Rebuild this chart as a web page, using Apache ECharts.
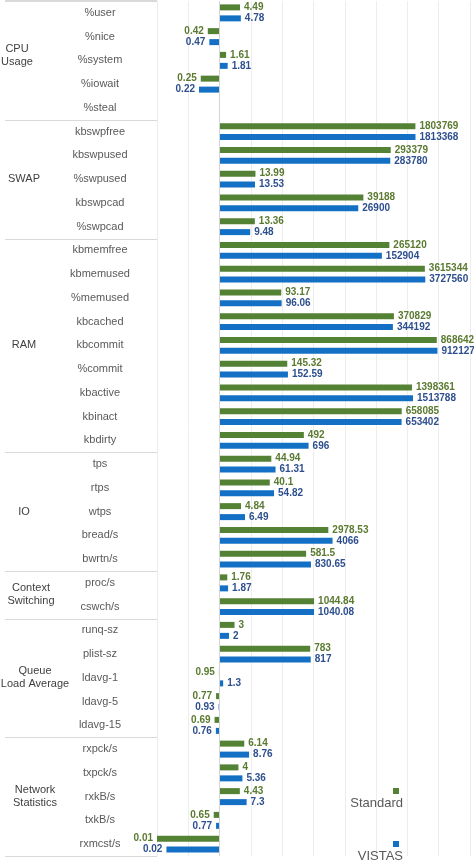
<!DOCTYPE html>
<html>
<head>
<meta charset="utf-8">
<script src="https://cdn.jsdelivr.net/npm/echarts@6/dist/echarts.min.js"></script>
<style>
  html, body { margin: 0; padding: 0; background: #fff; }
  #main { width: 474px; height: 861px; }
</style>
</head>
<body>
<div id="main"></div>
<script>
var metrics = [
  "%user", "%nice", "%system", "%iowait", "%steal",
  "kbswpfree", "kbswpused", "%swpused", "kbswpcad", "%swpcad",
  "kbmemfree", "kbmemused", "%memused", "kbcached", "kbcommit", "%commit", "kbactive", "kbinact", "kbdirty",
  "tps", "rtps", "wtps", "bread/s", "bwrtn/s",
  "proc/s", "cswch/s",
  "runq-sz", "plist-sz", "ldavg-1", "ldavg-5", "ldavg-15",
  "rxpck/s", "txpck/s", "rxkB/s", "txkB/s", "rxmcst/s"
];
var groups = ["CPU\nUsage", "SWAP", "RAM", "IO", "Context\nSwitching", "Queue\nLoad Average", "Network\nStatistics"];
var groupSizes = [5, 5, 9, 5, 2, 5, 5];

var standard = [
  4.49, 0.42, 1.61, 0.25, null,
  1803769, 293379, 13.99, 39188, 13.36,
  265120, 3615344, 93.17, 370829, 8686420, 145.32, 1398361, 658085, 492,
  44.94, 40.1, 4.84, 2978.53, 581.5,
  1.76, 1044.84,
  3, 783, 0.95, 0.77, 0.69,
  6.14, 4, 4.43, 0.65, 0.01
];
var vistas = [
  4.78, 0.47, 1.81, 0.22, null,
  1813368, 283780, 13.53, 26900, 9.48,
  152904, 3727560, 96.06, 344192, 9121278, 152.59, 1513788, 653402, 696,
  61.31, 54.82, 6.49, 4066, 830.65,
  1.87, 1040.08,
  2, 817, 1.3, 0.93, 0.76,
  8.76, 5.36, 7.3, 0.77, 0.02
];

var GREEN = "#548235", BLUE = "#1470c4";
var GREEN_TXT = "#5a7a30", BLUE_TXT = "#2e4f8e";
var FONT = "Liberation Sans, Arial, sans-serif";

// bar length is log10 of the value, the label shows the raw value
function toItems(arr) {
  return arr.map(function (v) {
    if (v == null) return null;
    var l = Math.log10(v);
    return { value: l, label: { position: l < 0 ? "left" : "right" } };
  });
}

function barSeries(name, arr, color, txt) {
  return {
    name: name,
    type: "bar",
    barWidth: 6,
    barGap: "83%",
    data: toItems(arr),
    itemStyle: { color: color },
    label: {
      show: true,
      distance: 4,
      color: txt,
      fontFamily: FONT,
      fontSize: 10,
      fontWeight: "bold",
      formatter: function (p) { return String(arr[p.dataIndex]); }
    }
  };
}

var chart = echarts.init(document.getElementById("main"));
var option = {
  animation: false,
  grid: { left: 157, right: 4, top: 1, bottom: 5 },
  xAxis: {
    type: "value",
    min: -2,
    max: 8,
    interval: 1,
    axisLabel: { show: false },
    axisLine: { show: false },
    axisTick: { show: false },
    splitLine: { lineStyle: { color: "#ededed" } }
  },
  yAxis: {
    type: "category",
    inverse: true,
    data: metrics,
    axisLine: { show: false, onZero: false },
    axisTick: { show: false },
    axisLabel: {
      margin: 57,
      align: "center",
      color: "#595959",
      fontFamily: FONT,
      fontSize: 11
    }
  },
  series: [
    barSeries("Standard", standard, GREEN, GREEN_TXT),
    barSeries("VISTAS", vistas, BLUE, BLUE_TXT)
  ]
};
option.series[0].markLine = {
  silent: true,
  symbol: "none",
  label: { show: false },
  lineStyle: { color: "#d4d4d4", type: "solid", width: 1 },
  data: [{ xAxis: 0 }]
};
chart.setOption(option);

// left panel: group names and separators
var y0 = chart.convertToPixel({ yAxisIndex: 0 }, 0);
var y1 = chart.convertToPixel({ yAxisIndex: 0 }, 1);
var band = y1 - y0;
function rowTop(i) { return y0 + band * i - band / 2; }

var groupX = [17, 24, 24, 24, 31, 35, 35];
var graphics = [];
var start = 0;
graphics.push({
  type: "line", shape: { x1: 5, y1: 1, x2: 157, y2: 1 },
  style: { stroke: "#d9d9d9", lineWidth: 2 }, silent: true
});
groups.forEach(function (g, gi) {
  var end = start + groupSizes[gi];
  var top = rowTop(start), bottom = rowTop(end);
  graphics.push({
    type: "line", shape: { x1: 5, y1: Math.round(bottom) + 0.5, x2: 157, y2: Math.round(bottom) + 0.5 },
    style: { stroke: "#d9d9d9", lineWidth: 1 }, silent: true
  });
  graphics.push({
    type: "text",
    x: groupX[gi],
    y: (top + bottom) / 2 - (gi === 0 ? 5 : 0),
    style: {
      text: g, align: "center", verticalAlign: "middle",
      fill: "#404040", font: "11px " + FONT, lineHeight: 13
    },
    silent: true
  });
  start = end;
});

// legend, text under the swatch
[["Standard", GREEN, 788], ["VISTAS", BLUE, 841]].forEach(function (l) {
  graphics.push({ type: "rect", shape: { x: 393, y: l[2], width: 6, height: 6 }, style: { fill: l[1] }, silent: true });
  graphics.push({
    type: "text", x: 403, y: l[2] + 9,
    style: { text: l[0], align: "right", verticalAlign: "top", fill: "#595959", font: "13px " + FONT },
    silent: true
  });
});
chart.setOption({ graphic: graphics });
</script>
</body>
</html>
